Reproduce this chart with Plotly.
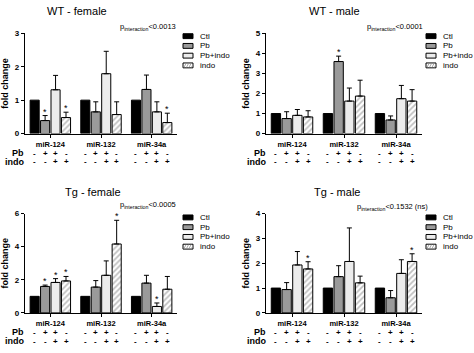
import plotly.graph_objects as go

W, H = 474, 353
FONT = "Liberation Sans, Arial, sans-serif"

categories = ["miR-124", "miR-132", "miR-34a"]
groups = ["Ctl", "Pb", "Pb+indo", "indo"]
pb_signs = ["-", "+", "+", "-"]
indo_signs = ["-", "-", "+", "+"]

# ---- WT female ----
wtf_ctl = [1, 1, 1]
wtf_pb = [0.39, 0.65, 1.32]
wtf_pbindo = [1.31, 1.79, 0.65]
wtf_indo = [0.48, 0.57, 0.33]
wtf_pb_err = [0.15, 0.30, 0.43]
wtf_pbindo_err = [0.43, 0.67, 0.30]
wtf_indo_err = [0.16, 0.38, 0.28]
wtf_stars = [(0, 1), (0, 3), (2, 3)]

# ---- WT male ----
wtm_ctl = [1, 1, 1]
wtm_pb = [0.75, 3.59, 0.68]
wtm_pbindo = [0.91, 1.62, 1.74]
wtm_indo = [0.83, 1.87, 1.62]
wtm_pb_err = [0.34, 0.27, 0.20]
wtm_pbindo_err = [0.29, 0.65, 0.66]
wtm_indo_err = [0.31, 0.79, 0.57]
wtm_stars = [(1, 1)]

# ---- Tg female ----
tgf_ctl = [1, 1, 1]
tgf_pb = [1.60, 1.56, 1.80]
tgf_pbindo = [1.84, 2.27, 0.39]
tgf_indo = [1.93, 4.16, 1.43]
tgf_pb_err = [0.08, 0.39, 0.47]
tgf_pbindo_err = [0.23, 0.87, 0.21]
tgf_indo_err = [0.27, 1.43, 0.77]
tgf_stars = [(0, 1), (0, 2), (0, 3), (1, 3), (2, 2)]

# ---- Tg male ----
tgm_ctl = [1, 1, 1]
tgm_pb = [0.94, 1.46, 0.61]
tgm_pbindo = [1.93, 2.07, 1.59]
tgm_indo = [1.77, 1.21, 2.07]
tgm_pb_err = [0.28, 0.44, 0.29]
tgm_pbindo_err = [0.54, 1.35, 0.55]
tgm_indo_err = [0.29, 0.27, 0.31]
tgm_stars = [(0, 3), (2, 3)]

panels = [
    dict(title="WT - female", p="&lt;0.0013", ymax=3, dtick=1,
         vals=[wtf_ctl, wtf_pb, wtf_pbindo, wtf_indo],
         errs=[None, wtf_pb_err, wtf_pbindo_err, wtf_indo_err], stars=wtf_stars,
         px=(25, 177), py=(30, 133), title_xy=(77, 7), p_xy=(118, 24), leg=(183, 33), lab_x=26, rows=(153, 162)),
    dict(title="WT - male", p="&lt;0.0001", ymax=5, dtick=1,
         vals=[wtm_ctl, wtm_pb, wtm_pbindo, wtm_indo],
         errs=[None, wtm_pb_err, wtm_pbindo_err, wtm_indo_err], stars=wtm_stars,
         px=(266, 422), py=(30, 133), title_xy=(334, 7), p_xy=(365, 24), leg=(426, 33), lab_x=268, rows=(153, 162)),
    dict(title="Tg - female", p="&lt;0.0005", ymax=6, dtick=2,
         vals=[tgf_ctl, tgf_pb, tgf_pbindo, tgf_indo],
         errs=[None, tgf_pb_err, tgf_pbindo_err, tgf_indo_err], stars=tgf_stars,
         px=(25, 177), py=(215, 317), title_xy=(93, 193), p_xy=(118, 206), leg=(183, 219), lab_x=26, rows=(337, 346)),
    dict(title="Tg - male", p="&lt;0.1532 (ns)", ymax=4, dtick=1,
         vals=[tgm_ctl, tgm_pb, tgm_pbindo, tgm_indo],
         errs=[None, tgm_pb_err, tgm_pbindo_err, tgm_indo_err], stars=tgm_stars,
         px=(266, 422), py=(215, 317), title_xy=(337, 193), p_xy=(355, 208), leg=(426, 219), lab_x=268, rows=(337, 346)),
]

fills = ["#000000", "#9a9a9a", "#ececec", "#ffffff"]
BARGAP = 0.175
BARGROUPGAP = 0.13

fig = go.Figure()
annotations = []
shapes = []


def px2x(x):
    return x / W


def px2y(y):
    return 1 - y / H


for k, p in enumerate(panels):
    n = "" if k == 0 else str(k + 1)
    xa, ya = "x" + n, "y" + n
    for j, g in enumerate(groups):
        err = p["errs"][j]
        marker = dict(color=fills[j], line=dict(color="black", width=1))
        if g == "indo":
            marker["pattern"] = dict(shape="/", fgcolor="#808080", bgcolor="white", size=4, solidity=0.45)
        fig.add_trace(go.Bar(
            x=categories, y=p["vals"][j], name=g, xaxis=xa, yaxis=ya,
            marker=marker, showlegend=False,
            error_y=(dict(type="data", array=err, arrayminus=[0] * 3, symmetric=False,
                          color="black", thickness=1, width=2.5) if err else None),
        ))
    # axes
    fig.layout["xaxis" + n] = dict(
        domain=[px2x(p["px"][0]), px2x(p["px"][1])], anchor=ya,
        showline=True, linecolor="black", linewidth=1.2, ticks="outside", ticklen=3,
        tickcolor="black", showgrid=False, zeroline=False,
        tickfont=dict(family=FONT, size=7.5, color="black", weight="bold"),
        range=[-0.5, 2.5], type="category")
    fig.layout["yaxis" + n] = dict(
        domain=[px2y(p["py"][1]), px2y(p["py"][0])], anchor=xa,
        range=[0, p["ymax"]], dtick=p["dtick"], showline=True, linecolor="black", linewidth=1.2,
        ticks="outside", ticklen=3, tickcolor="black", showgrid=False, zeroline=False,
        tickfont=dict(family=FONT, size=8, color="black", weight="bold"),
        title=dict(text="fold change", font=dict(family=FONT, size=9, color="black", weight="bold"),
                   standoff=4))
    # title
    annotations.append(dict(text=p["title"], x=px2x(p["title_xy"][0]), y=px2y(p["title_xy"][1]),
                            xref="paper", yref="paper", showarrow=False, xanchor="center", yanchor="middle",
                            font=dict(family=FONT, size=11, color="black")))
    # p interaction
    annotations.append(dict(text="p<sub>interaction</sub>" + p["p"], x=px2x(p["p_xy"][0]),
                            y=px2y(p["p_xy"][1]), xref="paper", yref="paper", showarrow=False,
                            xanchor="left", yanchor="middle",
                            font=dict(family=FONT, size=7.5, color="black")))
    # stars
    width = (1 - BARGAP) / 4
    for (ci, gj) in p["stars"]:
        top = p["vals"][gj][ci] + p["errs"][gj][ci]
        annotations.append(dict(text="*", x=ci + (gj - 1.5) * width, y=top, xref=xa, yref=ya,
                                showarrow=False, xanchor="center", yanchor="bottom", yshift=-3,
                                font=dict(family=FONT, size=9, color="black")))
    # Pb / indo rows
    for r, (lab, signs) in enumerate([("Pb", pb_signs), ("indo", indo_signs)]):
        yy = px2y(p["rows"][r])
        annotations.append(dict(text="<b>%s</b>" % lab, x=px2x(p["lab_x"]), y=yy, xref="paper", yref="paper",
                                showarrow=False, xanchor="right", yanchor="middle",
                                font=dict(family=FONT, size=9, color="black")))
        for ci in range(3):
            for gj, s in enumerate(signs):
                annotations.append(dict(text="<b>%s</b>" % s, x=ci + (gj - 1.5) * width, y=yy,
                                        xref=xa, yref="paper", showarrow=False, xanchor="center",
                                        yanchor="middle", font=dict(family=FONT, size=8, color="black")))
    # legend (drawn manually)
    lx, ly = p["leg"]
    for j, g in enumerate(groups):
        cy = ly + j * 10
        shapes.append(dict(type="rect", xref="paper", yref="paper",
                           x0=px2x(lx), x1=px2x(lx + 10), y0=px2y(cy + 2.5), y1=px2y(cy - 2.5),
                           fillcolor=fills[j], line=dict(color="black", width=1)))
        if g == "indo":
            for t in range(4):
                x0 = lx + 1 + t * 2.5
                shapes.append(dict(type="line", xref="paper", yref="paper",
                                   x0=px2x(x0), x1=px2x(x0 + 2), y0=px2y(cy + 2), y1=px2y(cy - 2),
                                   line=dict(color="#909090", width=0.8)))
        annotations.append(dict(text=g, x=px2x(lx + 15), y=px2y(cy), xref="paper", yref="paper",
                                showarrow=False, xanchor="left", yanchor="middle",
                                font=dict(family=FONT, size=8, color="black")))

fig.update_layout(
    width=W, height=H, margin=dict(l=0, r=0, t=0, b=0),
    paper_bgcolor="white", plot_bgcolor="white",
    barmode="group", bargap=BARGAP, bargroupgap=BARGROUPGAP,
    showlegend=False, annotations=annotations, shapes=shapes,
    font=dict(family=FONT, color="black"),
)

fig.write_html("out.html")
